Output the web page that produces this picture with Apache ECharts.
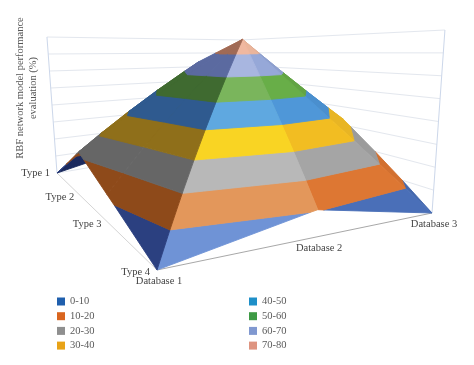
<!DOCTYPE html>
<html>

<head>
    <meta charset="utf-8" />
    <title>RBF surface</title>
    <style type="text/css">
        * {
            margin: 0;
            padding: 0;
        }

        html,
        body {
            width: 100%;
            height: 100%;
            background: #fff;
        }
    </style>
    <script src="https://cdn.jsdelivr.net/npm/echarts@6/dist/echarts.min.js"></script>
</head>

<body>
    <div id="main" style="width:474px;height:365px;"></div>
    <script type="text/javascript">
        // chart data
        const types = ['Type 1', 'Type 2', 'Type 3', 'Type 4'];
        const databases = ['Database 1', 'Database 2', 'Database 3'];
        const database1 = [0, 22, 12, 0];
        const database2 = [12, 65, 77, 10.5];
        const database3 = [0, 20, 33, 0];
        const bandNames = ['0-10', '10-20', '20-30', '30-40', '40-50', '50-60', '60-70', '70-80'];
        const bandEdges = [0, 10, 20, 30, 40, 50, 60, 70, 80];

        // colours: legend plus the lit faces of the surface
        const legendColors = ['#1f5fad', '#d9651f', '#8f8f8f', '#e8a317', '#1e8fc8', '#3e9a45', '#8098d0', '#de9480'];
        const midColors = ['#6f93d6', '#e3975b', '#b8b8b8', '#f9d423', '#5fa8e0', '#7ab55c', '#a8b6e0', '#f0b8a0'];
        const rightColors = ['#4a6fb8', '#dd7733', '#a5a5a5', '#f2bd22', '#4f97d8', '#68ae48', '#96a8d8', '#ebb59b'];
        const stripColors = ['#4468ad', '#d27030', '#9b9b9b', '#e8b524', '#4a8fce', '#62a444', '#8d9fce', '#e0ab92'];
        const darkColors = ['#2b4080', '#8e4a1a', '#666666', '#8f6f1a', '#2f5a8f', '#3f6a30', '#5b6aa0', '#a06a55'];
        const backColors = ['#1b2a5e', '#8a4a1c', '#5c5c5c', '#7a6018', '#2a4f80', '#38602b', '#505e90', '#905f4c'];

        // box of the 3d chart on the page
        const floorA = [57, 173], floorD = [241, 142], floorC = [432, 213], floorB = [157, 270];
        const topY = { a: 37, d: 40, c: 30, b: 30 };
        const vanish = [250, 2788];
        const zMax = 80;
        const typePos = [0, 0.34, 0.63, 1];
        const dbPos = [0, 0.558, 1];

        const rows = types.map((t, i) => [database1[i], database2[i], database3[i]]);

        // floor homography, unit square to the four corners
        const dx1 = floorD[0] - floorC[0], dx2 = floorB[0] - floorC[0], sx = floorA[0] - floorD[0] + floorC[0] - floorB[0];
        const dy1 = floorD[1] - floorC[1], dy2 = floorB[1] - floorC[1], sy = floorA[1] - floorD[1] + floorC[1] - floorB[1];
        const det = dx1 * dy2 - dx2 * dy1;
        const g = (sx * dy2 - dx2 * sy) / det;
        const h = (dx1 * sy - sx * dy1) / det;
        const ha = floorD[0] - floorA[0] + g * floorD[0], hb = floorB[0] - floorA[0] + h * floorB[0];
        const hd = floorD[1] - floorA[1] + g * floorD[1], he = floorB[1] - floorA[1] + h * floorB[1];

        // u along databases, v along types, both 0..1
        function project(u, v, z) {
            const w = g * u + h * v + 1;
            const fx = (ha * u + hb * v + floorA[0]) / w;
            const fy = (hd * u + he * v + floorA[1]) / w;
            const ty = (1 - u) * (1 - v) * topY.a + u * (1 - v) * topY.d + u * v * topY.c + (1 - u) * v * topY.b;
            const lean = (vanish[0] - fx) / (vanish[1] - fy);
            const tx = fx + (ty - fy) * lean;
            const t = z / zMax;
            return [fx + (tx - fx) * t, fy + (ty - fy) * t];
        }

        function vert(i, j) {
            return { i: i, j: j, z: rows[i][j] };
        }

        // split each cell along its higher diagonal
        const tris = [];
        for (let i = 0; i < types.length - 1; i++) {
            for (let j = 0; j < databases.length - 1; j++) {
                const a = vert(i, j), b = vert(i, j + 1), c = vert(i + 1, j), d = vert(i + 1, j + 1);
                if (a.z + d.z >= b.z + c.z) {
                    tris.push([a, b, d], [a, c, d]);
                } else {
                    tris.push([a, b, c], [b, c, d]);
                }
            }
        }

        function palette(tri) {
            const p = tri[0], q = tri[1], r = tri[2];
            const d = (q.j - p.j) * (r.i - p.i) - (r.j - p.j) * (q.i - p.i);
            const dzj = ((q.z - p.z) * (r.i - p.i) - (r.z - p.z) * (q.i - p.i)) / d;
            const dzi = ((q.j - p.j) * (r.z - p.z) - (r.j - p.j) * (q.z - p.z)) / d;
            const len = Math.sqrt(dzj * dzj + dzi * dzi + 100);
            const nj = -dzj / len, ni = -dzi / len;
            if (ni < -0.6) return backColors;
            if (nj < -0.5) return darkColors;
            if (nj > 0.5) return stripColors;
            return nj < 0 ? midColors : rightColors;
        }

        function cut(pts, level, keepAbove) {
            const out = [];
            pts.forEach((p, n) => {
                const q = pts[(n + 1) % pts.length];
                const pIn = keepAbove ? p.z >= level : p.z <= level;
                const qIn = keepAbove ? q.z >= level : q.z <= level;
                if (pIn) out.push(p);
                if (pIn !== qIn) {
                    const t = (level - p.z) / (q.z - p.z);
                    out.push({ i: p.i + (q.i - p.i) * t, j: p.j + (q.j - p.j) * t, z: level, u: p.u + (q.u - p.u) * t, v: p.v + (q.v - p.v) * t });
                }
            });
            return out;
        }

        // back to front, far triangles first
        tris.forEach(tri => {
            tri.forEach(p => {
                p.u = dbPos[p.j];
                p.v = typePos[p.i];
            });
            tri.far = 0.3 * (tri[0].u + tri[1].u + tri[2].u) - 0.376 * (tri[0].v + tri[1].v + tri[2].v);
        });
        tris.sort((a, b) => b.far - a.far);

        const polys = [];
        tris.forEach(tri => {
            const colors = palette(tri);
            bandNames.forEach((name, b) => {
                let pts = cut(tri, bandEdges[b], true);
                if (pts.length) pts = cut(pts, bandEdges[b + 1], false);
                if (pts.length > 2) polys.push({ pts: pts, color: colors[b] });
            });
        });

        // wall gridlines, then the corner posts and the two floor axes
        const wallLines = [];
        bandEdges.forEach(z => {
            wallLines.push({ from: [0, 0, z], to: [1, 0, z], color: '#e3e7ee', width: 1 });
            wallLines.push({ from: [1, 0, z], to: [1, 1, z], color: '#e3e7ee', width: 1 });
        });
        wallLines.push({ from: [0, 0, 0], to: [0, 0, zMax], color: '#ccd7ea', width: 1 });
        wallLines.push({ from: [1, 1, 0], to: [1, 1, zMax], color: '#ccd7ea', width: 1 });
        wallLines.push({ from: [0, 0, 0], to: [0, 1, 0], color: '#d5d5d5', width: 1 });
        wallLines.push({ from: [0, 1, 0], to: [1, 1, 0], color: '#a8a8a8', width: 1 });

        const axisLabels = [];
        types.forEach((t, i) => axisLabels.push({ text: t, at: [0, typePos[i], 0], dx: -7, dy: i * 0.7, align: 'right' }));
        databases.forEach((d, j) => axisLabels.push({ text: d, at: [dbPos[j], 1, 0], dx: 2, dy: 11, align: 'center' }));

        const legendSeries = bandNames.map((name, b) => ({
            type: 'scatter',
            name: name,
            data: [],
            itemStyle: { color: legendColors[b], opacity: 1 }
        }));

        const legendBase = {
            orient: 'vertical',
            top: 296,
            padding: 0,
            icon: 'rect',
            itemWidth: 8,
            itemHeight: 8,
            itemGap: 3.7,
            selectedMode: false,
            textStyle: { fontFamily: 'Liberation Serif', fontSize: 10.5, color: '#5a5a5a' }
        };

        const myChart = echarts.init(document.getElementById('main'), null, { renderer: 'canvas' });
        myChart.setOption({
            animation: false,
            backgroundColor: '#fff',
            grid: { left: 0, right: 0, top: 0, bottom: 0 },
            xAxis: { type: 'value', min: 0, max: 474, show: false },
            yAxis: { type: 'value', min: 0, max: 365, inverse: true, show: false },
            legend: [
                Object.assign({}, legendBase, { left: 57, data: bandNames.slice(0, 4) }),
                Object.assign({}, legendBase, { left: 249, data: bandNames.slice(4) })
            ],
            graphic: [{
                type: 'text',
                x: 27,
                y: 88,
                rotation: Math.PI / 2,
                style: {
                    text: 'RBF network model performance\nevaluation (%)',
                    fontFamily: 'Liberation Serif',
                    fontSize: 10.5,
                    lineHeight: 13,
                    fill: '#555',
                    align: 'center',
                    verticalAlign: 'middle'
                }
            }],
            series: legendSeries.concat([{
                type: 'custom',
                name: 'walls',
                silent: true,
                clip: false,
                z: 1,
                data: wallLines.map((l, n) => [n, 0]),
                renderItem: (params, api) => {
                    const l = wallLines[params.dataIndex];
                    const p1 = api.coord(project(l.from[0], l.from[1], l.from[2]));
                    const p2 = api.coord(project(l.to[0], l.to[1], l.to[2]));
                    return {
                        type: 'line',
                        shape: { x1: p1[0], y1: p1[1], x2: p2[0], y2: p2[1] },
                        style: { stroke: l.color, lineWidth: l.width }
                    };
                }
            }, {
                type: 'custom',
                name: 'surface',
                silent: true,
                clip: false,
                z: 2,
                data: polys.map((p, n) => [n, 0]),
                renderItem: (params, api) => {
                    const poly = polys[params.dataIndex];
                    return {
                        type: 'polygon',
                        shape: { points: poly.pts.map(p => api.coord(project(p.u, p.v, p.z))) },
                        style: { fill: poly.color, stroke: poly.color, lineWidth: 0.9 }
                    };
                }
            }, {
                type: 'custom',
                name: 'labels',
                silent: true,
                clip: false,
                z: 3,
                data: axisLabels.map((l, n) => [n, 0]),
                renderItem: (params, api) => {
                    const l = axisLabels[params.dataIndex];
                    const p = api.coord(project(l.at[0], l.at[1], l.at[2]));
                    return {
                        type: 'text',
                        x: p[0] + l.dx,
                        y: p[1] + l.dy,
                        style: {
                            text: l.text,
                            fontFamily: 'Liberation Serif',
                            fontSize: 10.5,
                            fill: '#444',
                            align: l.align,
                            verticalAlign: 'middle'
                        }
                    };
                }
            }])
        });
    </script>
</body>

</html>
